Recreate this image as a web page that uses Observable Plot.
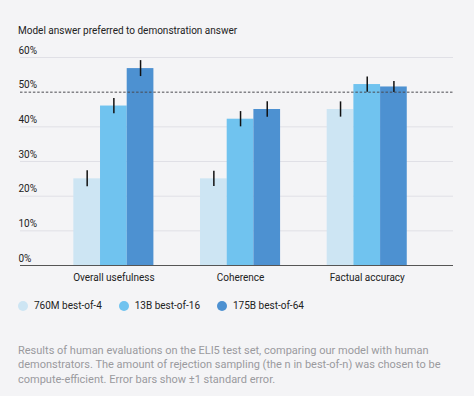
<!DOCTYPE html>
<html>
<head>
<meta charset="utf-8">
<script src="https://cdn.jsdelivr.net/npm/d3@7"></script>
<script src="https://cdn.jsdelivr.net/npm/@observablehq/plot@0.6"></script>
<style>
  html, body { margin: 0; padding: 0; }
  body { width: 474px; height: 396px; background: #f4f4f6; font-family: Roboto, "DejaVu Sans", sans-serif; position: relative; overflow: hidden; }
  #title { position: absolute; left: 18px; top: 24px; font-size: 10px; line-height: 14px; color: #222; }
  #chart { position: absolute; left: 0; top: 40px; }
  #legend { position: absolute; left: 18px; top: 299px; display: flex; align-items: center; font-size: 10px; color: #222; line-height: 14px; }
  .item { display: flex; align-items: center; margin-right: 17px; }
  .sw { width: 10px; height: 10px; border-radius: 50%; margin-right: 6px; }
  #caption { position: absolute; left: 18px; top: 344px; width: 445px; font-size: 11px; line-height: 14.3px; color: #9a9a9e; }
</style>
</head>
<body>
<div id="title"></div>
<div id="chart"></div>
<div id="legend"></div>
<div id="caption"></div>
<script>
const titleText = "Model answer preferred to demonstration answer";
const captionText = "Results of human evaluations on the ELI5 test set, comparing our model with human demonstrators. The amount of rejection sampling (the n in best-of-n) was chosen to be compute-efficient. Error bars show ±1 standard error.";
const categories = ["Overall usefulness", "Coherence", "Factual accuracy"];
const series = ["760M best-of-4", "13B best-of-16", "175B best-of-64"];
const values760M = [25.0, 25.0, 45.0];
const values13B = [46.0, 42.2, 52.2];
const values175B = [56.8, 45.0, 51.5];
const err760M = [2.3, 2.2, 2.2];
const err13B = [2.2, 2.2, 2.2];
const err175B = [2.3, 2.2, 1.6];
const yTicks = [0, 10, 20, 30, 40, 50, 60];
const referenceLine = [50];
const colors = ["#cde5f3", "#70c3ef", "#4d91d1"];

// layout of grouped bars in category-index units
const groupWidth = 0.632;

const seriesValues = [values760M, values13B, values175B];
const seriesErrors = [err760M, err13B, err175B];
const data = [];
categories.forEach((c, i) => {
  series.forEach((s, j) => {
    const x1 = i - groupWidth / 2 + j * groupWidth / series.length;
    const x2 = x1 + groupWidth / series.length;
    data.push({category: c, series: s, i, x1, x2, xm: (x1 + x2) / 2,
               value: seriesValues[j][i], err: seriesErrors[j][i]});
  });
});

document.getElementById("title").textContent = titleText;
document.getElementById("caption").textContent = captionText;
const legend = document.getElementById("legend");
series.forEach((s, j) => {
  const item = document.createElement("div");
  item.className = "item";
  const sw = document.createElement("span");
  sw.className = "sw";
  sw.style.background = colors[j];
  const t = document.createElement("span");
  t.textContent = s;
  item.appendChild(sw);
  item.appendChild(t);
  legend.appendChild(item);
});

const chart = Plot.plot({
  width: 474,
  height: 250,
  marginLeft: 20,
  marginRight: 21,
  marginTop: 17,
  marginBottom: 25,
  style: {background: "transparent", fontFamily: "Roboto, 'DejaVu Sans', sans-serif", fontSize: "10px", color: "#222"},
  x: {type: "linear", domain: [-0.737, 2.681], axis: null},
  y: {domain: [0, 60], axis: null},
  color: {domain: series, range: colors},
  marks: [
    Plot.ruleY(yTicks.filter(t => t > 0 && !referenceLine.includes(t)), {stroke: "#e0e0e6"}),
    Plot.rectY(data, {x1: "x1", x2: "x2", y1: 0, y2: "value", fill: "series"}),
    Plot.ruleX(data, {x: "xm", y1: d => d.value - d.err, y2: d => d.value + d.err, stroke: "#111", strokeWidth: 1.5}),
    Plot.ruleY(referenceLine, {stroke: "#4a4a4f", strokeDasharray: "2.5,1.8"}),
    Plot.ruleY([0], {stroke: "#555"}),
    Plot.text(yTicks, {y: d => d, text: d => d + "%", frameAnchor: "left", textAnchor: "start", dx: -2, dy: -7, fill: "#222"}),
    Plot.text(categories, {x: (d, i) => i, y: 0, text: d => d, dy: 12, fill: "#222"})
  ]
});
document.getElementById("chart").appendChild(chart);
</script>
</body>
</html>
